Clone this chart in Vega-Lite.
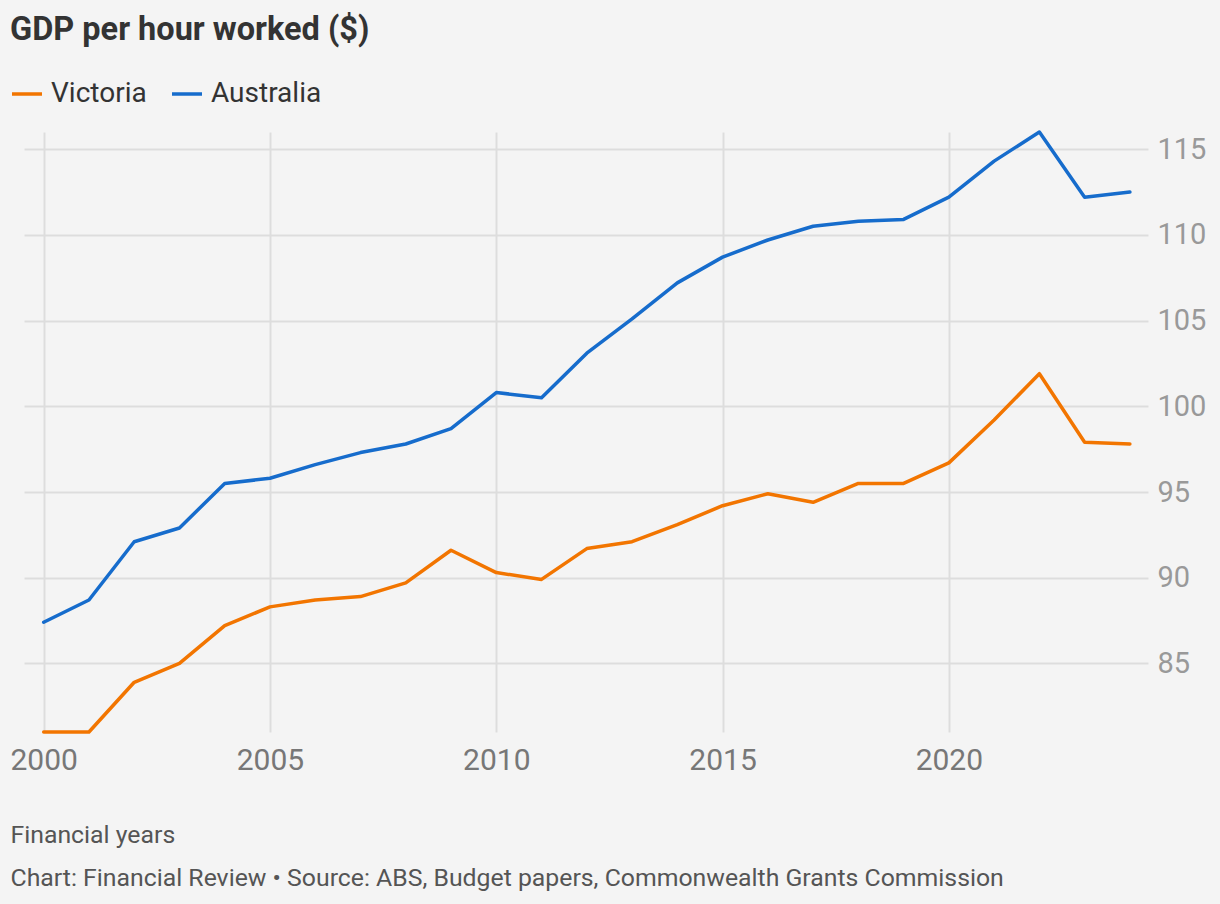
{
  "$schema": "https://vega.github.io/schema/vega-lite/v6.json",
  "width": 1124,
  "height": 600,
  "autosize": {"type": "none"},
  "padding": {"left": 24, "top": 132, "right": 72, "bottom": 172},
  "background": "#f4f4f4",
  "config": {"view": {"stroke": null}, "font": "Roboto"},
  "title": {
    "text": "GDP per hour worked ($)",
    "anchor": "start",
    "frame": "group",
    "fontSize": 32.5,
    "fontWeight": "bold",
    "color": "#333333",
    "dx": -14,
    "dy": 30,
    "offset": 35,
    "baseline": "alphabetic"
  },
  "data": {
    "values": [
      {"year": 2000, "region": "Australia", "value": 87.4},
      {"year": 2001, "region": "Australia", "value": 88.7},
      {"year": 2002, "region": "Australia", "value": 92.1},
      {"year": 2003, "region": "Australia", "value": 92.9},
      {"year": 2004, "region": "Australia", "value": 95.5},
      {"year": 2005, "region": "Australia", "value": 95.8},
      {"year": 2006, "region": "Australia", "value": 96.6},
      {"year": 2007, "region": "Australia", "value": 97.3},
      {"year": 2008, "region": "Australia", "value": 97.8},
      {"year": 2009, "region": "Australia", "value": 98.7},
      {"year": 2010, "region": "Australia", "value": 100.8},
      {"year": 2011, "region": "Australia", "value": 100.5},
      {"year": 2012, "region": "Australia", "value": 103.1},
      {"year": 2013, "region": "Australia", "value": 105.1},
      {"year": 2014, "region": "Australia", "value": 107.2},
      {"year": 2015, "region": "Australia", "value": 108.7},
      {"year": 2016, "region": "Australia", "value": 109.7},
      {"year": 2017, "region": "Australia", "value": 110.5},
      {"year": 2018, "region": "Australia", "value": 110.8},
      {"year": 2019, "region": "Australia", "value": 110.9},
      {"year": 2020, "region": "Australia", "value": 112.2},
      {"year": 2021, "region": "Australia", "value": 114.3},
      {"year": 2022, "region": "Australia", "value": 116.0},
      {"year": 2023, "region": "Australia", "value": 112.2},
      {"year": 2024, "region": "Australia", "value": 112.5},
      {"year": 2000, "region": "Victoria", "value": 81.0},
      {"year": 2001, "region": "Victoria", "value": 81.0},
      {"year": 2002, "region": "Victoria", "value": 83.9},
      {"year": 2003, "region": "Victoria", "value": 85.0},
      {"year": 2004, "region": "Victoria", "value": 87.2},
      {"year": 2005, "region": "Victoria", "value": 88.3},
      {"year": 2006, "region": "Victoria", "value": 88.7},
      {"year": 2007, "region": "Victoria", "value": 88.9},
      {"year": 2008, "region": "Victoria", "value": 89.7},
      {"year": 2009, "region": "Victoria", "value": 91.6},
      {"year": 2010, "region": "Victoria", "value": 90.3},
      {"year": 2011, "region": "Victoria", "value": 89.9},
      {"year": 2012, "region": "Victoria", "value": 91.7},
      {"year": 2013, "region": "Victoria", "value": 92.1},
      {"year": 2014, "region": "Victoria", "value": 93.1},
      {"year": 2015, "region": "Victoria", "value": 94.2},
      {"year": 2016, "region": "Victoria", "value": 94.9},
      {"year": 2017, "region": "Victoria", "value": 94.4},
      {"year": 2018, "region": "Victoria", "value": 95.5},
      {"year": 2019, "region": "Victoria", "value": 95.5},
      {"year": 2020, "region": "Victoria", "value": 96.7},
      {"year": 2021, "region": "Victoria", "value": 99.2},
      {"year": 2022, "region": "Victoria", "value": 101.9},
      {"year": 2023, "region": "Victoria", "value": 97.9},
      {"year": 2024, "region": "Victoria", "value": 97.8}
    ]
  },
  "mark": {"type": "line", "strokeWidth": 3.5, "strokeCap": "round", "strokeJoin": "round"},
  "encoding": {
    "x": {
      "field": "year",
      "type": "quantitative",
      "scale": {"domain": [1999.565, 2024.4], "nice": false, "zero": false},
      "axis": {
        "values": [2000, 2005, 2010, 2015, 2020],
        "format": "d",
        "domain": false,
        "ticks": false,
        "grid": true,
        "gridColor": "#dddddd",
        "gridWidth": 2,
        "labelFontSize": 30,
        "labelColor": "#777777",
        "labelPadding": 13,
        "labelFont": "Roboto",
        "title": ["Financial years", "Chart: Financial Review • Source: ABS, Budget papers, Commonwealth Grants Commission"],
        "titleFont": "Roboto",
        "titleFontSize": 24.8,
        "titleFontWeight": "normal",
        "titleColor": "#555555",
        "titleAnchor": "start",
        "titleAlign": "left",
        "titleBaseline": "alphabetic",
        "titleLineHeight": 43,
        "titleX": -14,
        "titleY": 110
      }
    },
    "y": {
      "field": "value",
      "type": "quantitative",
      "scale": {"domain": [81, 116], "nice": false, "zero": false},
      "axis": {
        "orient": "right",
        "values": [85, 90, 95, 100, 105, 110, 115],
        "domain": false,
        "ticks": false,
        "grid": true,
        "gridColor": "#dddddd",
        "gridWidth": 2,
        "labelFontSize": 29,
        "labelColor": "#999999",
        "labelPadding": 9,
        "labelFont": "Roboto",
        "title": null
      }
    },
    "color": {
      "field": "region",
      "type": "nominal",
      "scale": {"domain": ["Victoria", "Australia"], "range": ["#f27500", "#166ccc"]},
      "legend": {
        "title": null,
        "orient": "none",
        "legendX": -14,
        "legendY": -55,
        "direction": "horizontal",
        "symbolType": "stroke",
        "symbolStrokeWidth": 3.5,
        "symbolSize": 900,
        "labelFontSize": 28,
        "labelColor": "#333333",
        "labelFont": "Roboto",
        "labelOffset": 7,
        "columnPadding": 18
      }
    }
  }
}
